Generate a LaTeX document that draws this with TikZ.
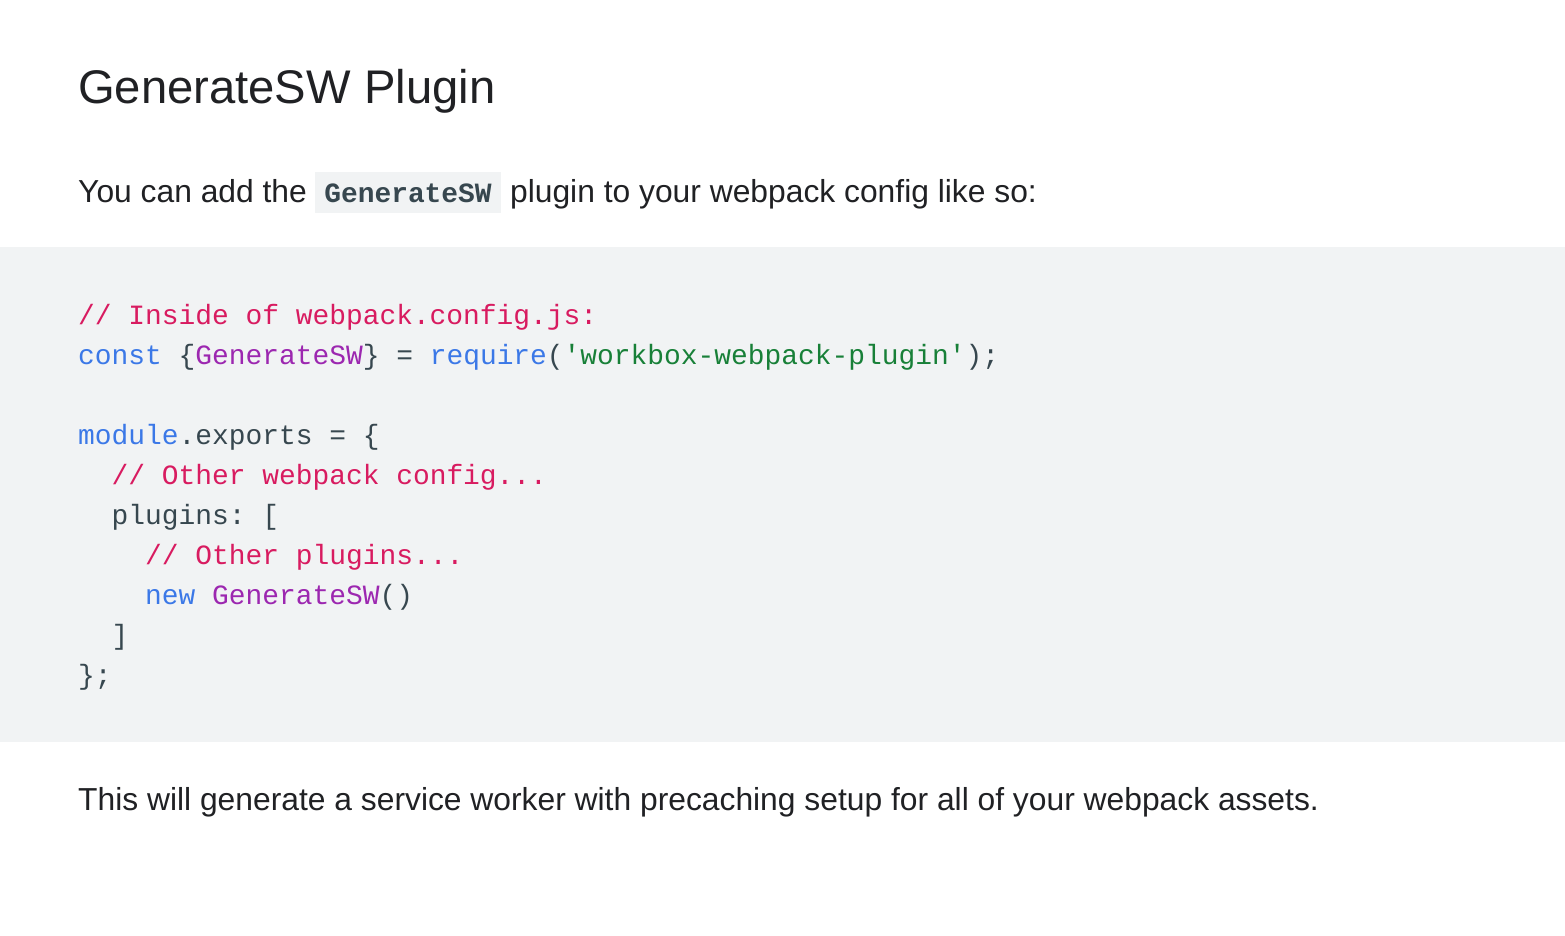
\documentclass[tikz,border=0pt]{standalone}
\usepackage{fontspec}
\setmainfont{Liberation Sans}
\setmonofont{Liberation Mono}
\definecolor{txt}{HTML}{202124}
\definecolor{cdef}{HTML}{37474F}
\definecolor{ccom}{HTML}{D81B60}
\definecolor{ckey}{HTML}{3B78E7}
\definecolor{cpur}{HTML}{9C27B0}
\definecolor{cstr}{HTML}{188038}
\definecolor{cbg}{HTML}{F1F3F4}
\newcommand{\cm}[1]{\textcolor{ccom}{#1}}
\newcommand{\kw}[1]{\textcolor{ckey}{#1}}
\newcommand{\pu}[1]{\textcolor{cpur}{#1}}
\newcommand{\st}[1]{\textcolor{cstr}{#1}}
\begin{document}
\begin{tikzpicture}[x=1pt,y=-1pt,
  body/.style={anchor=base west,inner sep=0,text=txt,font=\fontsize{31.8}{36}\selectfont},
  code/.style={anchor=base west,inner sep=0,text=cdef,font=\fontsize{27.9}{34}\ttfamily}]
\useasboundingbox[fill=white] (0,0) rectangle (1565,935);
\fill[cbg] (0,247) rectangle (1565,742);
\node[anchor=base west,inner sep=0,text=txt,font=\fontsize{47.2}{54}\selectfont] (h) at (78,103) {GenerateSW Plugin};
\node[body] (p1) at (78,202) {You can add the};
\node[anchor=base west,fill=cbg,inner xsep=9pt,inner ysep=0,minimum height=41pt,text depth=11pt,text height=30pt,font=\fontsize{27.9}{34}\ttfamily\bfseries,text=cdef] (ic) at ([xshift=8pt]p1.base east) {GenerateSW};
\node[body] (p2) at ([xshift=9pt]ic.base east) {plugin to your webpack config like so:};
\node[code] (l1) at (78,324) {\cm{// Inside of webpack.config.js:}};
\node[code] (l2) at (78,364) {\kw{const} \{\pu{GenerateSW}\} = \kw{require}(\st{'workbox-webpack-plugin'});};
\node[code] (l4) at (78,444) {\kw{module}.exports = \{};
\node[code] (l5) at (111.5,484) {\cm{// Other webpack config...}};
\node[code] (l6) at (111.5,524) {plugins: [};
\node[code] (l7) at (145,564) {\cm{// Other plugins...}};
\node[code] (l8) at (145,604) {\kw{new} \pu{GenerateSW}()};
\node[code] (l9) at (111.5,644) {]};
\node[code] (l10) at (78,684) {\};};
\node[body] (p3) at (78,810) {This will generate a service worker with precaching setup for all of your webpack assets.};
\end{tikzpicture}
\end{document}
